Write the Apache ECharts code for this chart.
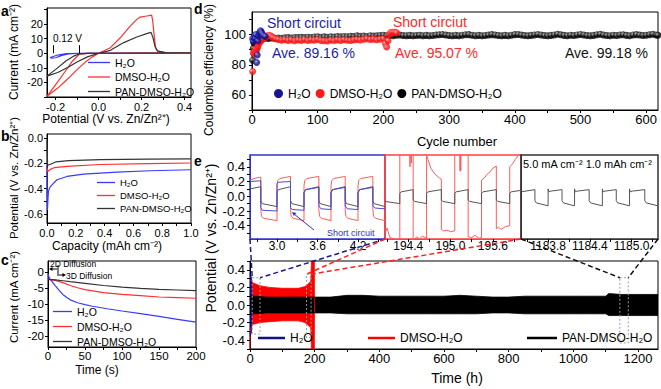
<!DOCTYPE html>
<html><head><meta charset="utf-8">
<script src="https://cdn.jsdelivr.net/npm/echarts@6/dist/echarts.min.js"></script>
<style>html,body{margin:0;padding:0;background:#fff}#c{width:661px;height:389px}</style>
</head><body><div id="c"></div>
<script>
// ---------- Panel a: CV curves [potential V, current mA cm-2] ----------
const cvH2O = [[0.43,0.1],[0.2,0.1],[0,0.05],[-0.1,0],[-0.15,-0.3],[-0.19,-1.2],[-0.215,-2.4],[-0.225,-2.9],[-0.22,-3.3],[-0.2,-3.1],[-0.17,-1.5],[-0.14,-0.5],[-0.1,-0.1],[0,0],[0.2,0.05],[0.43,0.1]];
const cvDMSO = [[0,0],[-0.05,-0.05],[-0.09,-0.7],[-0.121,-5.3],[-0.159,-13.2],[-0.198,-21.2],[-0.236,-28.7],[-0.24,-29.5],[-0.19,-23.9],[-0.144,-17.7],[-0.098,-10.9],[-0.06,-5.9],[-0.029,-2.5],[0,0],[0.055,3.8],[0.101,10.6],[0.147,18.6],[0.178,23.2],[0.193,24.8],[0.224,25.5],[0.247,26.1],[0.252,22],[0.258,13],[0.265,3.8],[0.277,1.1],[0.315,0.4],[0.43,0.3],[0.2,0.05],[0,0]];
const cvPAN = [[0,0],[-0.05,-0.1],[-0.09,-0.5],[-0.113,-1.8],[-0.152,-5.3],[-0.198,-10.9],[-0.24,-15.7],[-0.19,-13.2],[-0.144,-9.8],[-0.098,-5.9],[-0.052,-2.5],[0,0],[0.055,2.0],[0.117,7.3],[0.178,11.1],[0.224,13.4],[0.244,14.3],[0.253,10.7],[0.262,5],[0.273,1.6],[0.315,0.3],[0.43,0.2],[0.2,0.05],[0,0]];
const nucleationMarks = [-0.21, -0.088];

// ---------- Panel b: potential vs capacity ----------
const gH2O = [[0,-0.22],[0.003,-0.57],[0.006,-0.5],[0.01,-0.42],[0.02,-0.39],[0.035,-0.37],[0.069,-0.33],[0.139,-0.304],[0.254,-0.285],[0.485,-0.27],[0.716,-0.259],[1.0,-0.251]];
const gDMSO = [[0,-0.24],[0.005,-0.265],[0.02,-0.25],[0.05,-0.235],[0.139,-0.225],[0.37,-0.21],[0.7,-0.203],[1.0,-0.198]];
const gPAN = [[0,-0.02],[0.004,-0.215],[0.02,-0.21],[0.06,-0.19],[0.15,-0.18],[0.37,-0.172],[0.7,-0.168],[1.0,-0.166]];

// ---------- Panel c: chronoamperometry [s, mA cm-2] ----------
const caH2O = [[0,-0.6],[2,-2.0],[5,-2.8],[10,-4.3],[15,-5.7],[20,-7.0],[25,-7.9],[30,-8.7],[40,-9.6],[50,-10.2],[60,-10.7],[80,-11.5],[100,-12.2],[125,-13.0],[150,-13.9],[175,-14.8],[200,-15.7]];
const caDMSO = [[0,-2.2],[5,-2.4],[10,-2.6],[20,-3.3],[30,-4.2],[40,-4.9],[50,-5.5],[75,-6.4],[100,-7.0],[125,-7.4],[150,-7.8],[175,-8.0],[200,-8.2]];
const caPAN = [[0,-2.3],[10,-2.4],[20,-2.7],[30,-3.0],[50,-3.5],[75,-4.2],[100,-4.7],[125,-5.1],[150,-5.4],[175,-5.6],[200,-5.8]];

// ---------- Panel d: Coulombic efficiency [cycle, %] ----------
const ceH2O = [[1,97.2],[2,95.5],[3,98],[4,99.5],[5,97.5],[6,100],[7,81.5],[8,86.5],[9,96],[10,99],[11,100.5],[12,101.5],[13,102.5],[14,101.8],[15,100.8],[17,99.6],[20,98.8]];
const ceDMSO = [[1,75.5],[2,88],[3,87.5],[4,89],[5,90.2],[6,88.5],[7,90],[8,91],[9,92.5],[10,94],[12,95],[14,96],[16,97],[18,97.5],[20,98.3],[23,99.2],[26,99.6],[29,99],[32,98],[36,97.2],
 [40,96.8],[45,96.3],[50,96.6],[55,96.2],[60,96.5],[65,96.0],[70,96.4],[75,96.2],[80,96.6],[85,96.1],[90,96.5],[95,96.3],[100,96.7],[105,96.2],[110,96.0],[115,95.8],[120,96.4],[125,96.1],[130,96.5],[135,96.2],[140,96.6],[145,96.3],[150,96.1],[155,96.5],[160,96.8],[165,96.4],[170,96.9],[175,97.2],[180,96.8],[185,97.0],[190,96.6],[195,97.0],[200,97.3],
 [203,94.2],[205,91.8],[207,96],[209,100],[211,101.3],[214,101.6],[217,101.5],[220,101.2]];
const ceBlack = [[1,83],[2,91],[3,94.5],[4,95.8],[5,96.3],[6,96.8],[8,97],[10,97.2],[12,97.1],
 [15,97.3],[20,97.6],[25,97.4],[30,97.7],[35,97.5],[40,97.8],[45,97.6],[50,97.9],[55,98.0],[60,97.8],[65,98.1],[70,98.0],[75,98.2],[80,98.0],[85,98.3],[90,98.1],[95,98.4],[100,98.6],
 [105,98.3],[110,98.5],[115,98.2],[120,98.6],[125,98.4],[130,98.7],[135,98.5],[140,98.8],[145,98.6],[150,98.9],[155,98.7],[160,99.2],[165,98.9],[170,99.1],[175,98.8],[180,99.3],[185,99.0],[190,99.2],[195,99.4],[200,99.6],
 [205,99.3],[210,99.5],[215,99.2],[220,99.6],[225,99.8],[230,99.4],[235,99.3],[240,99.5],[245,99.2],[250,99.4],[255,99.6],[260,99.3],[265,99.5],[270,99.2],[275,99.4],[280,99.7],[285,99.9],[290,100.1],[295,99.7],[300,99.4],
 [305,99.2],[310,99.5],[315,99.3],[320,99.6],[325,99.9],[330,100.0],[335,99.6],[340,99.3],[345,99.5],[350,99.2],[355,99.4],[360,99.7],[365,100.0],[370,99.8],[375,99.4],[380,99.2],[385,99.5],[390,99.3],[395,99.6],[400,100.0],
 [405,100.1],[410,99.7],[415,99.4],[420,99.2],[425,99.5],[430,99.8],[435,100.1],[440,99.8],[445,99.4],[450,99.2],[455,99.5],[460,99.8],[465,100.2],[470,99.9],[475,99.5],[480,99.3],[485,99.6],[490,99.4],[495,99.8],[500,100.1],
 [505,99.8],[510,99.4],[515,99.2],[520,99.5],[525,99.9],[530,100.2],[535,99.8],[540,99.4],[545,99.3],[550,99.6],[555,99.4],[560,99.7],[565,99.9],[570,99.5],[575,99.3],[580,99.7],[585,100.0],[590,99.7],[595,99.4],[600,99.6],
 [605,99.9],[610,100.2],[615,99.8],[618,99.6]];

// ---------- Panel e insets: voltage profiles [h, V] ----------
const insetA_DMSO = [[2.60,0.22],[2.70,0.25],[2.76,0.26],[2.76,-0.18],[2.77,-0.27],[2.80,-0.30],[3.00,-0.33],
 [3.00,0.14],[3.01,0.21],[3.04,0.24],[3.20,0.27],[3.20,-0.18],[3.21,-0.27],[3.24,-0.30],[3.40,-0.33],
 [3.40,0.14],[3.41,0.21],[3.44,0.24],[3.62,0.27],[3.62,-0.18],[3.63,-0.27],[3.66,-0.30],[3.80,-0.33],
 [3.80,0.14],[3.81,0.21],[3.84,0.24],[4.01,0.27],[4.01,-0.18],[4.02,-0.27],[4.05,-0.30],[4.20,-0.33],
 [4.20,0.14],[4.21,0.21],[4.24,0.24],[4.42,0.27],[4.42,-0.18],[4.43,-0.27],[4.46,-0.30],[4.60,-0.33]];
const insetA_PAN = [[2.60,0.10],[2.76,0.13],[2.76,-0.06],[2.78,-0.10],[3.00,-0.14],
 [3.00,0.05],[3.02,0.09],[3.20,0.13],[3.20,-0.06],[3.22,-0.10],[3.40,-0.14],
 [3.40,0.05],[3.42,0.09],[3.62,0.13],[3.62,-0.06],[3.64,-0.10],[3.80,-0.14],
 [3.80,0.05],[3.82,0.09],[4.01,0.13],[4.01,-0.06],[4.03,-0.10],[4.20,-0.14],
 [4.20,0.05],[4.22,0.09],[4.42,0.13],[4.42,-0.06],[4.44,-0.10],[4.60,-0.14]];
const insetA_H2O = [[2.60,0.20],[2.76,0.21],[2.76,-0.15],[2.78,-0.19],[3.00,-0.20],
 [3.00,0.17],[3.01,0.19],[3.20,0.20],[3.20,-0.15],[3.22,-0.18],[3.40,-0.19],
 [3.40,0.05],[3.43,0.09],[3.62,0.12],[3.62,-0.13],[3.65,-0.17],[3.80,-0.18],
 [3.80,0.05],[3.83,0.09],[4.01,0.12],[4.01,-0.13],[4.04,-0.17],[4.20,-0.18],
 [4.20,0.05],[4.23,0.09],[4.42,0.12],[4.42,-0.13],[4.45,-0.16],[4.60,-0.17]];
const insetB_DMSO = [[194.07,-0.44],[194.09,-0.47],[194.10,-0.43],[194.12,-0.50],[194.14,-0.56],[194.20,-0.58],[194.28,-0.60],
 [194.28,0.60],[194.42,0.60],[194.425,0.40],[194.43,0.60],[194.445,0.45],[194.45,0.60],[194.47,0.60],
 [194.47,-0.60],[194.52,-0.55],[194.56,-0.58],[194.60,-0.54],[194.66,-0.57],
 [194.66,0.56],[194.68,0.50],[194.72,0.38],[194.78,0.30],[194.84,0.25],[194.87,0.23],
 [194.87,-0.45],[194.90,-0.47],[194.95,-0.46],[195.00,-0.48],[195.06,-0.47],
 [195.06,0.60],[195.13,0.60],[195.135,0.34],[195.14,0.60],[195.145,0.35],[195.15,0.60],[195.25,0.60],
 [195.25,-0.55],[195.30,-0.56],[195.35,-0.53],[195.40,-0.57],[195.44,-0.56],
 [195.44,0.22],[195.48,0.25],[195.52,0.30],[195.56,0.33],[195.60,0.38],[195.65,0.41],
 [195.65,-0.44],[195.68,-0.42],[195.72,-0.45],[195.78,-0.41],[195.84,-0.40],
 [195.84,0.40],[195.88,0.44],[195.92,0.50],[195.96,0.55],[196.0,0.60]];
const insetB_PAN = [[194.07,-0.07],[194.28,-0.10],[194.28,0.04],[194.30,0.06],[194.47,0.09],[194.47,-0.05],[194.49,-0.07],[194.66,-0.10],
 [194.66,0.04],[194.68,0.06],[194.87,0.09],[194.87,-0.05],[194.89,-0.07],[195.06,-0.10],
 [195.06,0.04],[195.08,0.06],[195.25,0.09],[195.25,-0.05],[195.27,-0.07],[195.44,-0.10],
 [195.44,0.04],[195.46,0.06],[195.65,0.09],[195.65,-0.05],[195.67,-0.07],[195.84,-0.10],
 [195.84,0.04],[195.86,0.06],[196.0,0.08]];
const insetC_PAN = [[1183.41,0.06],[1183.61,0.09],[1183.61,-0.06],[1183.63,-0.09],[1183.80,-0.13],
 [1183.80,0.10],[1183.81,0.06],[1183.84,0.07],[1184.00,0.09],[1184.00,-0.06],[1184.02,-0.09],[1184.18,-0.13],
 [1184.18,0.10],[1184.19,0.06],[1184.22,0.07],[1184.39,0.09],[1184.39,-0.06],[1184.41,-0.09],[1184.58,-0.13],
 [1184.58,0.10],[1184.59,0.06],[1184.62,0.07],[1184.78,0.09],[1184.78,-0.06],[1184.80,-0.09],[1184.97,-0.13],
 [1184.97,0.10],[1184.98,0.06],[1185.01,0.07],[1185.19,0.09],[1185.19,-0.06],[1185.21,-0.09],[1185.38,-0.13]];

// ---------- Panel e main: envelopes of the cycling bands [h], upper / lower V ----------
const envBlackT  = [0,20,50,100,150,200,250,300,350,400,450,500,550,600,650,700,750,800,850,900,950,1000,1050,1100,1110,1150,1200,1250,1262];
const envBlackUp = [0.10,0.10,0.09,0.09,0.09,0.09,0.09,0.11,0.11,0.10,0.10,0.10,0.10,0.10,0.11,0.10,0.09,0.09,0.10,0.10,0.10,0.10,0.10,0.10,0.13,0.12,0.12,0.12,0.12];
const envBlackLo = [-0.10,-0.10,-0.09,-0.09,-0.09,-0.09,-0.09,-0.10,-0.10,-0.10,-0.10,-0.10,-0.10,-0.10,-0.10,-0.10,-0.09,-0.09,-0.10,-0.10,-0.10,-0.10,-0.10,-0.10,-0.12,-0.12,-0.12,-0.12,-0.12];
const envRedT  = [0,0.5,1,3,10,30,60,100,150,170,180,188,190,199,199.5];
const envRedUp = [0.29,0.29,0.28,0.28,0.25,0.22,0.20,0.19,0.19,0.21,0.24,0.27,0.5,0.5,0];
const envRedLo = [-0.5,-0.5,-0.26,-0.25,-0.22,-0.20,-0.19,-0.18,-0.18,-0.20,-0.23,-0.26,-0.5,-0.5,0];
const envBlueT  = [0,1,3,5,6];
const envBlueUp = [0.33,0.35,0.33,0.30,0];
const envBlueLo = [-0.30,-0.35,-0.33,-0.30,0];
// zoom windows drawn on the main panel: [t0, t1, vLow, vHigh]
const zoomBoxes = [[7,31,-0.33,0.31],[175,189,-0.37,0.35],[1144,1170,-0.43,0.31]];

const names = ['H₂O','DMSO-H₂O','PAN-DMSO-H₂O'];
const FONT = 'Arial, "Liberation Sans", Helvetica, sans-serif';
const zip = (t, v) => t.map((x, i) => [x, v[i]]);

function ax(gi, min, max, ticks, labels, fmt, fs, margin, lineColor) {
  return {
    type: 'value', gridIndex: gi, min: min, max: max,
    axisLine: {show: true, onZero: false, lineStyle: {color: lineColor || '#000', width: 1}},
    axisTick: {show: ticks.length > 0, length: 3, inside: false, customValues: ticks, lineStyle: {color: '#000', width: 1}},
    axisLabel: {show: !!labels, customValues: labels || [], formatter: fmt, color: '#000', fontSize: fs, fontFamily: FONT, margin: margin},
    splitLine: {show: false}, minorTick: {show: false}
  };
}
const f1 = v => Number(v).toFixed(1);
const f0 = v => String(Math.round(v));

const gridBase = {show: true, borderColor: '#000', borderWidth: 1, backgroundColor: 'transparent', containLabel: false, outerBoundsMode: 'none'};
const grids = [
  Object.assign({}, gridBase, {left: 47, top: 8, width: 144, height: 89}),
  Object.assign({}, gridBase, {left: 47, top: 134, width: 144, height: 89}),
  Object.assign({}, gridBase, {left: 48, top: 261, width: 148, height: 86}),
  Object.assign({}, gridBase, {left: 252, top: 12, width: 406, height: 98}),
  Object.assign({}, gridBase, {left: 250, top: 155, width: 135, height: 84, borderColor: '#3535d0', borderWidth: 1.5}),
  Object.assign({}, gridBase, {left: 385, top: 155, width: 136, height: 84, borderColor: '#ff4040', borderWidth: 1.5}),
  Object.assign({}, gridBase, {left: 521, top: 155, width: 137, height: 84, borderColor: '#333', borderWidth: 1.5}),
  Object.assign({}, gridBase, {left: 250, top: 261, width: 408, height: 88})
];

const xAxes = [
  ax(0, -0.24, 0.43, [-0.2,-0.1,0,0.1,0.2,0.3,0.4], [-0.2,0,0.2,0.4], f1, 11, 4),
  ax(1, 0, 1, [0,0.1,0.2,0.3,0.4,0.5,0.6,0.7,0.8,0.9,1], [0,0.2,0.4,0.6,0.8,1], f1, 11, 4),
  ax(2, 0, 200, [0,25,50,75,100,125,150,175,200], [0,50,100,150,200], f0, 11.5, 3),
  ax(3, 0, 618, [0,50,100,150,200,250,300,350,400,450,500,550,600], [0,100,200,300,400,500,600], f0, 13, 3),
  ax(4, 2.6, 4.6, [2.7,3.0,3.3,3.6,3.9,4.2,4.5], [3.0,3.6,4.2], f1, 12, 1, '#3535d0'),
  ax(5, 194.07, 196.0, [194.1,194.4,194.7,195.0,195.3,195.6,195.9], [194.4,195.0,195.6], f1, 12, 1, '#ff4040'),
  ax(6, 1183.41, 1185.38, [1183.5,1183.8,1184.1,1184.4,1184.7,1185.0,1185.3], [1183.8,1184.4,1185.0], f1, 12, 1, '#333'),
  ax(7, 0, 1262, [0,100,200,300,400,500,600,700,800,900,1000,1100,1200], [0,200,400,600,800,1000,1200], f0, 13, 3)
];
const yAxes = [
  ax(0, -30, 31, [-30,-20,-10,0,10,20,30], [-20,-10,0,10,20], f0, 11, 4),
  ax(1, -0.67, 0.03, [-0.6,-0.5,-0.4,-0.3,-0.2,-0.1,0], [-0.6,-0.4,-0.2,0], f1, 11, 4),
  ax(2, -23.5, 3.5, [-20,-15,-10,-5,0], [-20,-15,-10,-5,0], f0, 11.5, 4),
  ax(3, 50, 115, [50,60,70,80,90,100,110], [60,80,100], f0, 13, 6),
  ax(4, -0.58, 0.56, [-0.5,-0.4,-0.3,-0.2,-0.1,0,0.1,0.2,0.3,0.4,0.5], [-0.4,-0.2,0,0.2,0.4], f1, 13, 5, '#3535d0'),
  ax(5, -0.58, 0.56, [], null, f1, 13, 5, '#ff4040'),
  ax(6, -0.58, 0.56, [], null, f1, 13, 5, '#333'),
  ax(7, -0.5, 0.5, [-0.5,-0.4,-0.3,-0.2,-0.1,0,0.1,0.2,0.3,0.4,0.5], [-0.4,-0.2,0,0.2,0.4], f1, 13, 5)
];

const C_BLUE = '#3a3aff', C_RED = '#ff3030', C_BLK = '#333';
function ln(name, gi, data, color, w, extra) {
  return Object.assign({type: 'line', name: name, xAxisIndex: gi, yAxisIndex: gi, data: data, symbol: 'none', showSymbol: false,
    lineStyle: {color: color, width: w}, itemStyle: {color: color}, clip: true, silent: true, animation: false}, extra || {});
}
function ball(c0, c1) {
  return {type: 'radial', x: 0.38, y: 0.35, r: 0.65, colorStops: [{offset: 0, color: c0}, {offset: 0.55, color: c1}, {offset: 1, color: c1}]};
}
function sc(name, data, c0, c1) {
  return {type: 'scatter', name: name, xAxisIndex: 3, yAxisIndex: 3, data: data, symbol: 'circle', symbolSize: 7,
    itemStyle: {color: ball(c0, c1)}, clip: true, silent: true, animation: false};
}
function band(gi, t, v, color) {
  return {type: 'line', xAxisIndex: gi, yAxisIndex: gi, data: zip(t, v), symbol: 'none', showSymbol: false,
    lineStyle: {color: color, width: 0.8}, areaStyle: {color: color, opacity: 1}, silent: true, animation: false, clip: true};
}

const series = [
  ln(names[0], 0, cvH2O, C_BLUE, 1.2, {markLine: {silent: true, animation: false, symbol: ['none','none'], label: {show: false},
      lineStyle: {color: '#000', width: 1, type: 'solid'},
      data: nucleationMarks.map(x => [{coord: [x, 0]}, {coord: [x, 5.5]}])}}),
  ln(names[1], 0, cvDMSO, C_RED, 1.2),
  ln(names[2], 0, cvPAN, C_BLK, 1.2),
  ln('b1', 1, gH2O, C_BLUE, 1.2), ln('b2', 1, gDMSO, C_RED, 1.2), ln('b3', 1, gPAN, C_BLK, 1.2),
  ln('c1', 2, caH2O, C_BLUE, 1.2), ln('c2', 2, caDMSO, C_RED, 1.2), ln('c3', 2, caPAN, C_BLK, 1.2),
  sc('d3', ceBlack, '#c8c8c8', '#000'),
  sc('d2', ceDMSO, '#ffc0c0', '#ff1010'),
  sc('d1', ceH2O, '#a8a8ff', '#10108c'),
  ln('e1r', 4, insetA_DMSO, '#ff5c5c', 1), ln('e1k', 4, insetA_PAN, '#555', 1), ln('e1b', 4, insetA_H2O, '#4b4bd8', 1),
  ln('e2r', 5, insetB_DMSO, '#ff5c5c', 1), ln('e2k', 5, insetB_PAN, '#555', 1),
  ln('e3k', 6, insetC_PAN, '#555', 1),
  band(7, envRedT, envRedUp, '#ff0000'), band(7, envRedT, envRedLo, '#ff0000'),
  band(7, envBlueT, envBlueUp, '#0a0a90'), band(7, envBlueT, envBlueLo, '#0a0a90'),
  band(7, envBlackT, envBlackUp, '#000'), band(7, envBlackT, envBlackLo, '#000')
];

function lg(left, top, fs, gap, w, h, data, extra) {
  return Object.assign({left: left, top: top, orient: 'vertical', padding: 0, itemGap: gap, itemWidth: w, itemHeight: h, icon: 'rect',
    selectedMode: false, textStyle: {fontSize: fs, fontFamily: FONT, color: '#000'}, data: data}, extra || {});
}
const legends = [
  lg(88, 57, 10.5, 3.5, 22, 1.3, names.map(n => ({name: n}))),
  lg(97, 177.5, 9.5, 3, 18, 1.3, names.map(n => ({name: n}))),
  lg(53, 306, 10.5, 4, 19, 1.3, names.map(n => ({name: n}))),
  lg(274, 87.5, 12, 5, 9, 9, [
    {name: names[0], itemStyle: {color: '#16168f'}},
    {name: names[1], itemStyle: {color: '#ff1a1a'}},
    {name: names[2], itemStyle: {color: '#000'}}], {orient: 'horizontal', icon: 'circle'}),
  lg(258, 332, 12, 0, 27, 2.5, [{name: names[0], itemStyle: {color: '#10108a'}}], {orient: 'horizontal'}),
  lg(368, 332, 12, 0, 27, 2.5, [{name: names[1], itemStyle: {color: '#ff0000'}}], {orient: 'horizontal'}),
  lg(527, 332, 12, 0, 30, 2.5, [{name: names[2], itemStyle: {color: '#000'}}], {orient: 'horizontal'})
];

const chart = echarts.init(document.getElementById('c'), null, {renderer: 'svg', width: 661, height: 389});
chart.setOption({
  animation: false,
  backgroundColor: '#fff',
  textStyle: {fontFamily: FONT},
  grid: grids, xAxis: xAxes, yAxis: yAxes, legend: legends, series: series
});

// ---------- annotations ----------
function txt(x, y, s, fs, color, opts) {
  const o = opts || {};
  return {type: 'text', x: x, y: y, rotation: o.rot || 0, z: 100, silent: true,
    style: {text: s, fontSize: fs, fontFamily: FONT, fontWeight: o.bold ? 'bold' : 'normal', fill: color || '#000',
      align: o.align || 'left', textAlign: o.align || 'left', verticalAlign: 'middle', textVerticalAlign: 'middle'}};
}
function seg(x1, y1, x2, y2, color, w, dash) {
  return {type: 'line', z: 90, silent: true, shape: {x1: x1, y1: y1, x2: x2, y2: y2},
    style: {stroke: color, lineWidth: w, lineDash: dash || null}};
}
function tri(pts, color) {
  return {type: 'polygon', z: 90, silent: true, shape: {points: pts}, style: {fill: color}};
}
const P = (gi, x, y) => chart.convertToPixel({gridIndex: gi}, [x, y]);
const R90 = Math.PI / 2;
const g = [
  txt(1, 11, 'a', 14, '#000', {bold: true}),
  txt(1, 136, 'b', 14, '#000', {bold: true}),
  txt(1, 260, 'c', 14, '#000', {bold: true}),
  txt(194, 9, 'd', 14, '#000', {bold: true}),
  txt(194, 161, 'e', 14, '#000', {bold: true}),
  txt(14, 52, 'Current (mA cm⁻²)', 12, '#000', {rot: R90, align: 'center'}),
  txt(106, 119, 'Potential (V vs. Zn/Zn²⁺)', 12, '#000', {align: 'center'}),
  txt(14, 178, 'Potential (V vs. Zn/Zn²⁺)', 11.5, '#000', {rot: R90, align: 'center'}),
  txt(107, 246, 'Capacity (mAh cm⁻²)', 12, '#000', {align: 'center'}),
  txt(14, 297, 'Current (mA cm⁻²)', 11.5, '#000', {rot: R90, align: 'center'}),
  txt(97, 370, 'Time (s)', 12, '#000', {align: 'center'}),
  txt(209, 70, 'Coulombic efficiency (%)', 12, '#000', {rot: R90, align: 'center'}),
  txt(457, 141, 'Cycle number', 13, '#000', {align: 'center'}),
  txt(211, 238, 'Potential (V vs. Zn/Zn²⁺)', 14, '#000', {rot: R90, align: 'center'}),
  txt(457, 378, 'Time (h)', 14, '#000', {align: 'center'}),
  txt(53, 38.5, '0.12 V', 10, '#000'),
  txt(50, 264, '2D Diffusion', 8.5, '#000'),
  txt(66, 275.5, '3D Diffusion', 8.5, '#000'),
  seg(58, 265, 58, 276, '#000', 1), seg(57, 269, 51, 269, '#000', 1), tri([[49, 269], [52.5, 267], [52.5, 271]], '#000'),
  seg(59, 275, 64, 275, '#000', 1), tri([[66, 275], [62.5, 273], [62.5, 277]], '#000'),
  txt(267, 23, 'Short circiut', 14, '#1e1e9a'),
  txt(272, 53, 'Ave. 89.16 %', 14, '#1e1e9a'),
  txt(393, 22, 'Short circiut', 14, '#ff2a2a'),
  txt(395, 53, 'Ave. 95.07 %', 14, '#ff2a2a'),
  txt(565, 53, 'Ave. 99.18 %', 14, '#111'),
  txt(523, 164, '5.0 mA cm⁻² 1.0 mAh cm⁻²', 11, '#000'),
  txt(327, 233, 'Short circuit', 9, '#3030c0'),
  seg(314, 230, 294, 214, '#3030c0', 1), tri([[292, 212], [296.4, 213.0], [293.8, 216.0]], '#3030c0')
];
// dotted zoom boxes and dashed connectors to the insets
const boxCol = ['#1a1a8c', '#ff2020', '#111'];
const insetEdge = [[4, 2.6, 4.6], [5, 194.07, 196.0], [6, 1183.41, 1185.38]];
zoomBoxes.forEach((b, i) => {
  const tl = P(7, b[0], b[3]), br = P(7, b[1], b[2]);
  g.push({type: 'rect', z: 90, silent: true, shape: {x: tl[0], y: tl[1], width: br[0] - tl[0], height: br[1] - tl[1]},
    style: {fill: 'none', stroke: '#9a9a9a', lineWidth: 1, lineDash: [2, 2]}});
  const e = insetEdge[i];
  const bl = P(e[0], e[1], -0.58), brr = P(e[0], e[2], -0.58);
  g.push(seg(bl[0], bl[1], tl[0], tl[1], boxCol[i], 1.5, [5, 3]));
  g.push(seg(brr[0], brr[1], br[0], tl[1], boxCol[i], 1.5, [5, 3]));
});
chart.setOption({graphic: g});
</script></body></html>
